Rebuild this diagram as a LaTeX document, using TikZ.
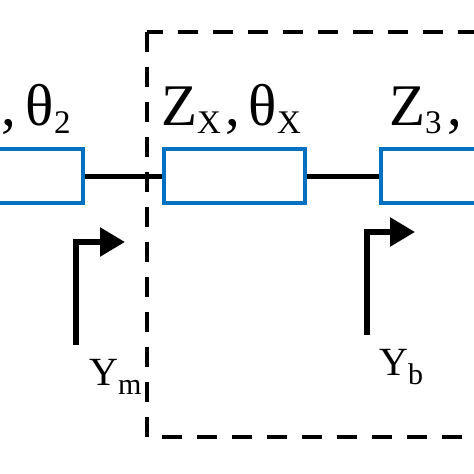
\documentclass[tikz,border=0pt]{standalone}
\usepackage{fontspec}
\setmainfont{Liberation Serif}
\usetikzlibrary{arrows.meta}

\definecolor{zblue}{RGB}{0,112,192}
\newcommand{\lsub}[1]{\raisebox{-8pt}{\fontsize{33}{33}\selectfont #1}}
\newcommand{\ysub}[1]{\raisebox{-9pt}{\fontsize{30}{30}\selectfont #1}}

\tikzset{
  zbox/.style={draw=zblue, line width=4pt, minimum width=141pt, minimum height=54pt, inner sep=0pt},
  wire/.style={line width=5pt},
  probe/.style={line width=5.5pt, -{Triangle[length=25pt,width=28pt]}},
  zone/.style={line width=4pt, dash pattern=on 20pt off 15pt},
  zlab/.style={anchor=base west, inner sep=0pt, font=\fontsize{59}{59}\selectfont},
  ylab/.style={anchor=base west, inner sep=0pt, font=\fontsize{40}{40}\selectfont}
}

\begin{document}
\begin{tikzpicture}[x=1pt,y=-1pt]
% \draw [help lines, step=50] (0,0) grid (474,474) ;
\clip (0,0) rectangle (474,474) ;

\draw [zone] (147,32) rectangle (520,437) ;

\node [zbox] (z2) at (12,176)  {} ;
\node [zbox] (zx) at (234.5,176) {} ;
\node [zbox] (z3) at (451.5,176) {} ;

\draw [wire] (z2.east) -- (zx.west) ;
\draw [wire] (zx.east) -- (z3.west) ;

\node [zlab] (l2) at (1,125)   {,\hspace{10pt}θ\lsub{2}} ;
\node [zlab] (lx) at (161,125) {Z\lsub{X}\hspace{4pt},\hspace{9pt}θ\lsub{X}} ;
\node [zlab] (l3) at (389,125) {Z\lsub{3}\hspace{6pt},} ;

% probes
\coordinate (pm0) at (76,345) ;
\coordinate (pm1) at (125,242) ;
\coordinate (pb0) at (367,335) ;
\coordinate (pb1) at (415,232) ;
\draw [probe] (pm0) |- (pm1) ;
\draw [probe] (pb0) |- (pb1) ;

\node [ylab] (ym) at (89,385)  {Y\ysub{m}} ;
\node [ylab] (yb) at (379,375) {Y\ysub{b}} ;
\end{tikzpicture}
\end{document}
